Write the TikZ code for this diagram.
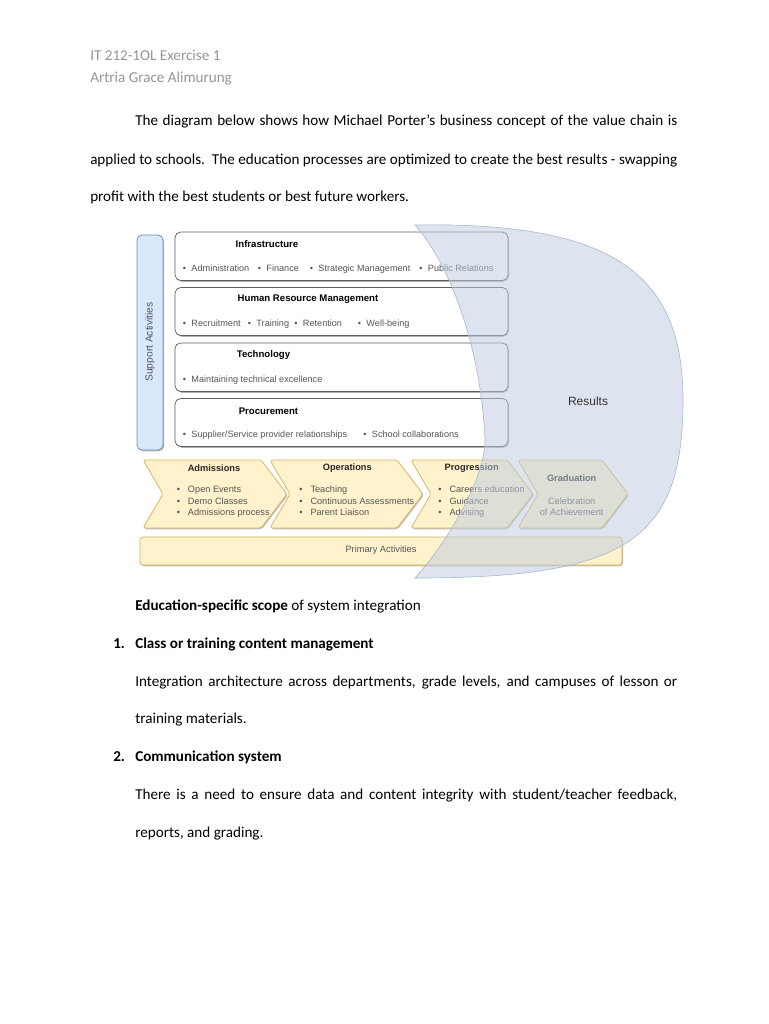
\documentclass[tikz,border=0pt]{standalone}
\usepackage{fontspec}
\setmainfont{Carlito}
\newfontfamily\arialf{Liberation Sans}
\usetikzlibrary{fit,shadows}
\definecolor{hdrgray}{RGB}{150,150,150}
\definecolor{boxline}{RGB}{95,95,95}
\definecolor{itemgray}{RGB}{85,85,85}
\definecolor{supfill}{RGB}{218,232,252}
\definecolor{supline}{RGB}{108,142,191}
\definecolor{chfill}{RGB}{255,242,204}
\definecolor{chline}{RGB}{214,182,86}
\definecolor{resfill}{RGB}{190,205,225}
\definecolor{resline}{RGB}{170,185,205}
\begin{document}
\begin{tikzpicture}[x=0.8pt,y=-0.8pt,
  body/.style={anchor=base west,inner sep=0,font=\fontsize{12.1}{14}\selectfont},
  bodyb/.style={body,font=\fontsize{12.1}{14}\selectfont\bfseries},
  hdr/.style={body,text=hdrgray},
  sbox/.style={draw=boxline,line width=0.6pt,rounded corners=4.5pt,fill=white,inner sep=0,
    drop shadow={shadow xshift=0.8pt,shadow yshift=-1pt,opacity=0.3,fill=black}},
  supbox/.style={draw=supline,line width=0.6pt,rounded corners=4pt,fill=supfill,inner sep=0,
    drop shadow={shadow xshift=0.8pt,shadow yshift=-1pt,opacity=0.3,fill=black}},
  btitle/.style={inner sep=0,font=\arialf\bfseries\fontsize{7.7}{9}\selectfont},
  bitem/.style={anchor=base west,inner sep=0,text=itemgray,font=\arialf\fontsize{7.3}{9}\selectfont},
  chev/.style={draw=chline,line width=0.6pt,fill=chfill,rounded corners=1.5pt,line join=round,
    drop shadow={shadow xshift=0.8pt,shadow yshift=-1pt,opacity=0.25,fill=black}},
  ctitle/.style={inner sep=0,text=black!85,font=\arialf\bfseries\fontsize{7.4}{9}\selectfont},
  citem/.style={anchor=base west,inner sep=0,text=itemgray,font=\arialf\fontsize{7.35}{9}\selectfont},
  cplain/.style={inner sep=0,text=itemgray,font=\arialf\fontsize{7.4}{9}\selectfont}]
\useasboundingbox[fill=white] (0,0) rectangle (768,1024);

% header
\node[hdr] (h1) at (90,61) {IT 212-1OL Exercise 1};
\node[hdr] (h2) at (90,82.5) {Artria Grace Alimurung};

% intro paragraph
\node[body] (p1) at (135,125.5) {\makebox[433.6pt][s]{The diagram below shows how Michael Porter’s business concept of the value chain is}};
\node[body] (p2) at (90,164.5) {\makebox[469.6pt][s]{applied to schools.\ \ The education processes are optimized to create the best results - swapping}};
\node[body] (p3) at (90,201.5) {profit with the best students or best future workers.};

% support activities
\node[supbox,fit={(137,235) (163,450)}] (sup) {};
\node[inner sep=0,rotate=90,text=itemgray,font=\arialf\fontsize{8.2}{9}\selectfont] (supT) at (150,342) {Support Activities};

\node[sbox,fit={(175,232) (508,280.5)}] (infra) {};
\node[sbox,fit={(175,287.5) (508,335.5)}] (hrm) {};
\node[sbox,fit={(175,343) (508,391.5)}] (tech) {};
\node[sbox,fit={(175,398.5) (508,446.5)}] (proc) {};

\node[btitle] (infraT) at (267,244) {Infrastructure};
\node[bitem] (i1) at (182.5,271.3) {\makebox[7pt][l]{•}Administration};
\node[bitem] (i2) at (257.5,271.3) {\makebox[7pt][l]{•}Finance};
\node[bitem] (i3) at (309.5,271.3) {\makebox[7pt][l]{•}Strategic Management};
\node[bitem] (i4) at (419,271.3) {\makebox[7pt][l]{•}Public Relations};

\node[btitle] (hrmT) at (308,299.5) {Human Resource Management};
\node[bitem] (r1) at (182.5,326.7) {\makebox[7pt][l]{•}Recruitment};
\node[bitem] (r2) at (247.5,326.7) {\makebox[7pt][l]{•}Training};
\node[bitem] (r3) at (294,326.7) {\makebox[7pt][l]{•}Retention};
\node[bitem] (r4) at (357.5,326.7) {\makebox[7pt][l]{•}Well-being};

\node[btitle] (techT) at (263.5,355.5) {Technology};
\node[bitem] (t1) at (182.5,382) {\makebox[7pt][l]{•}Maintaining technical excellence};

\node[btitle] (procT) at (268.5,411) {Procurement};
\node[bitem] (q1) at (182.5,437.3) {\makebox[7pt][l]{•}Supplier/Service provider relationships};
\node[bitem] (q2) at (363,437.3) {\makebox[7pt][l]{•}School collaborations};

% primary activities chevrons
\draw[chev] (143,460) -- (261,460) -- (287,494) -- (261,528) -- (143,528) -- (163,494) -- cycle;
\draw[chev] (270,460) -- (397,460) -- (423,494) -- (397,528) -- (270,528) -- (290,494) -- cycle;
\draw[chev] (411,460) -- (507,460) -- (533,494) -- (507,528) -- (411,528) -- (431,494) -- cycle;
\draw[chev] (518,460) -- (602,460) -- (628,494) -- (602,528) -- (518,528) -- (538,494) -- cycle;

\node[ctitle] (admT) at (214,468.3) {Admissions};
\node[citem] (a1) at (176.5,492.5) {\makebox[9pt][l]{•}Open Events};
\node[citem] (a2) at (176.5,504) {\makebox[9pt][l]{•}Demo Classes};
\node[citem] (a3) at (176.5,515.5) {\makebox[9pt][l]{•}Admissions process};

\node[ctitle] (opT) at (347.3,468.3) {Operations};
\node[citem] (o1) at (299,492.5) {\makebox[9pt][l]{•}Teaching};
\node[citem] (o2) at (299,504) {\makebox[9pt][l]{•}Continuous Assessments};
\node[citem] (o3) at (299,515.5) {\makebox[9pt][l]{•}Parent Liaison};

\node[ctitle] (prT) at (471.7,468.3) {Progression};
\node[citem] (g1) at (438,492.5) {\makebox[9pt][l]{•}Careers education};
\node[citem] (g2) at (438,504) {\makebox[9pt][l]{•}Guidance};
\node[citem] (g3) at (438,515.5) {\makebox[9pt][l]{•}Advising};

\node[ctitle] (grT) at (571.7,477.7) {Graduation};
\node[cplain] (gr1) at (571.7,500.7) {Celebration};
\node[cplain] (gr2) at (571.7,512.3) {of Achievement};

\node[chev,rounded corners=2.5pt,fit={(140,537) (622,565)},inner sep=0] (prim) {};
\node[cplain] (primT) at (381,550.5) {Primary Activities};

% results overlay
\path[draw=resline,line width=0.5pt,fill=resfill,fill opacity=0.52]
  (415,225) .. controls (608,222) and (683,270) .. (683,400)
  .. controls (683,540) and (627,578) .. (415,578)
  .. controls (445,545) and (485,480) .. (485,440)
  .. controls (482,360) and (455,270) .. cycle;
\node[inner sep=0,text=black!80,font=\arialf\fontsize{9.6}{11}\selectfont] (res) at (588,401) {Results};

% lower text
\node[body] (s1) at (135,610) {\textbf{Education-specific scope} of system integration};
\node[bodyb] (n1) at (113,648) {1.};
\node[bodyb] (s2) at (135,648) {Class or training content management};
\node[body] (s3) at (135,686) {\makebox[433.6pt][s]{Integration architecture across departments, grade levels, and campuses of lesson or}};
\node[body] (s4) at (135,723) {training materials.};
\node[bodyb] (n2) at (113,761) {2.};
\node[bodyb] (s5) at (135,761) {Communication system};
\node[body] (s6) at (135,799) {\makebox[433.6pt][s]{There is a need to ensure data and content integrity with student/teacher feedback,}};
\node[body] (s7) at (135,837) {reports, and grading.};
\end{tikzpicture}
\end{document}
